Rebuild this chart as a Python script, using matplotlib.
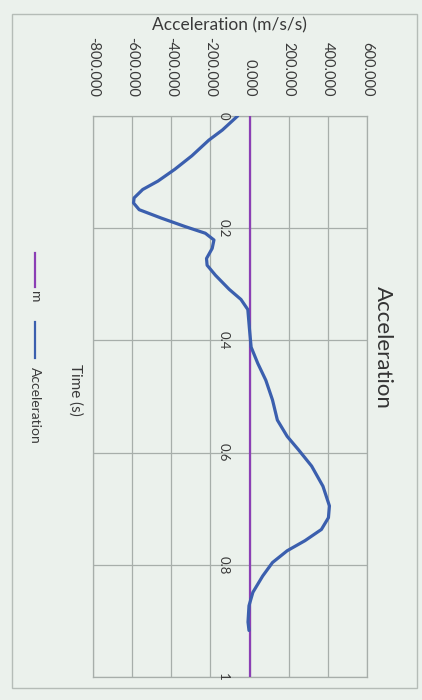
import matplotlib
matplotlib.use("Agg")
import matplotlib.pyplot as plt
from matplotlib.lines import Line2D
from matplotlib.patches import Rectangle

plt.rcParams['font.family'] = ['Lato', 'DejaVu Sans']

# blue series: time (s) and acceleration (m/s/s)
time = [0, 0.025, 0.043, 0.071, 0.095, 0.116, 0.131, 0.146, 0.155, 0.167,
        0.182, 0.197, 0.209, 0.221, 0.236, 0.254, 0.266, 0.284, 0.309, 0.327,
        0.345, 0.382, 0.412, 0.441, 0.471, 0.506, 0.542, 0.571, 0.595, 0.624,
        0.66, 0.695, 0.716, 0.737, 0.757, 0.775, 0.796, 0.82, 0.849, 0.873,
        0.902, 0.917]
accel = [-61, -139, -208, -295, -382, -468, -546, -590, -593, -564,
         -451, -330, -226, -182, -191, -220, -217, -174, -104, -44,
         -9, 0, 8, 42, 83, 117, 142, 192, 250, 317,
         375, 408, 403, 367, 283, 192, 117, 67, 17, -3,
         -8, -3]

# purple "m" series (flat at zero)
m_time = [0, 1]
m_vals = [0, 0]

acc_ticks = [-800, -600, -400, -200, 0, 200, 400, 600]
time_ticks = [0, 0.2, 0.4, 0.6, 0.8, 1]
time_labels = ['0', '0.2', '0.4', '0.6', '0.8', '1']

W, H = 422, 700
bg = '#ebf1ec'
grid_c = '#a7aeaa'
txt_c = '#3a3a3a'
blue = '#3b5fae'
purple = '#8b3fb5'

fig = plt.figure(figsize=(W / 100, H / 100), dpi=100, facecolor=bg)

# chart frame of the photographed sheet
fig.add_artist(Rectangle((12 / W, 1 - 688 / H), (417 - 12) / W, (688 - 14) / H,
                         transform=fig.transFigure, fill=False,
                         edgecolor='#b5bcb7', lw=1))

ax = fig.add_axes([93 / W, 1 - 677 / H, (367 - 93) / W, (677 - 116) / H])
ax.set_facecolor(bg)

ax.plot(m_vals, m_time, color=purple, lw=1.6, zorder=3)
ax.plot(accel, time, color=blue, lw=2.3, zorder=4,
        solid_joinstyle='round', solid_capstyle='round')

ax.set_xlim(-800, 600)
ax.set_ylim(1, 0)
ax.set_xticks(acc_ticks)
ax.set_xticklabels(['{:.3f}'.format(v) for v in acc_ticks], rotation=-90,
                   fontsize=10.5, color=txt_c)
ax.xaxis.tick_top()
ax.tick_params(axis='x', length=0, pad=14)
ax.set_yticks(time_ticks)
ax.set_yticklabels([])
ax.tick_params(axis='y', length=0)
ax.grid(True, color=grid_c, lw=0.9)
for s in ax.spines.values():
    s.set_color(grid_c)
    s.set_linewidth(0.9)

for t, lab in zip(time_ticks, time_labels):
    ax.text(-135, t, lab, rotation=-90, ha='center', va='center',
            fontsize=9.5, color=txt_c)

fig.text(383 / W, 1 - 347 / H, 'Acceleration', rotation=-90, ha='center',
         va='center', fontsize=16, color='#333333')
fig.text(229 / W, 1 - 25 / H, 'Acceleration (m/s/s)', ha='center', va='center',
         fontsize=12.5, color=txt_c)
fig.text(75 / W, 1 - 390 / H, 'Time (s)', rotation=-90, ha='center',
         va='center', fontsize=11, color=txt_c)

# legend, drawn sideways like the rest of the photo
fig.add_artist(Line2D([35 / W, 35 / W], [1 - 253 / H, 1 - 287 / H],
                      transform=fig.transFigure, color=purple, lw=1.6))
fig.text(35 / W, 1 - 297 / H, 'm', rotation=-90, ha='center', va='center',
         fontsize=10, color=txt_c)
fig.add_artist(Line2D([35 / W, 35 / W], [1 - 322 / H, 1 - 358 / H],
                      transform=fig.transFigure, color=blue, lw=1.6))
fig.text(35 / W, 1 - 405 / H, 'Acceleration', rotation=-90, ha='center',
         va='center', fontsize=10, color=txt_c)

fig.savefig('out.png', dpi=100, facecolor=bg)
